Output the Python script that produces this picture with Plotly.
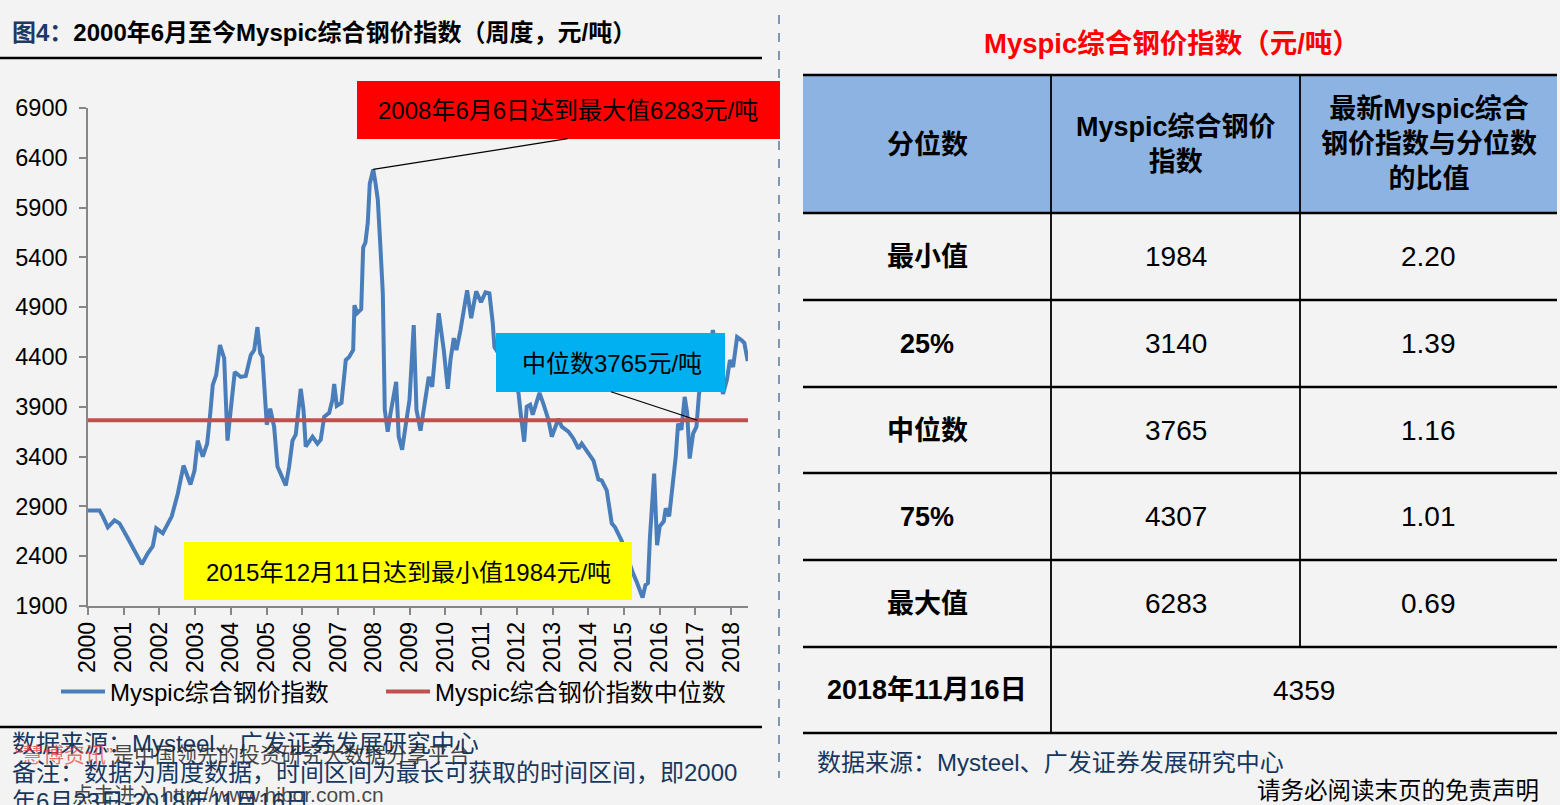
import plotly.graph_objects as go
from datetime import date, timedelta

# ---------------- data ----------------
dates = [
    "2000-06-23", "2000-10-18", "2000-11-21", "2001-01-11", "2001-03-20", "2001-05-10", "2001-07-17", "2001-10-10", "2001-12-23",
    "2002-02-22", "2002-04-14", "2002-05-19", "2002-07-25", "2002-10-24", "2002-12-25",
    "2003-02-21", "2003-05-03", "2003-06-13", "2003-07-16", "2003-09-05", "2003-10-20", "2003-11-23", "2003-12-16",
    "2004-01-20", "2004-02-17", "2004-02-27", "2004-04-10", "2004-05-14", "2004-06-16", "2004-07-27", "2004-09-26", "2004-11-16",
    "2005-01-06", "2005-02-10", "2005-03-15", "2005-04-12", "2005-05-05", "2005-06-18", "2005-07-23", "2005-09-01", "2005-10-05", "2005-12-29",
    "2006-02-01", "2006-03-07", "2006-04-09", "2006-05-30", "2006-06-27", "2006-07-20", "2006-09-27", "2006-11-16", "2006-12-20",
    "2007-01-24", "2007-03-16", "2007-04-18", "2007-05-06", "2007-06-01", "2007-07-19", "2007-09-01", "2007-10-05", "2007-11-15", "2007-11-28", "2007-12-26",
    "2008-02-05", "2008-02-25", "2008-03-19", "2008-04-12", "2008-05-02", "2008-06-06", "2008-06-29", "2008-07-23", "2008-08-19", "2008-09-12", "2008-10-02", "2008-11-01", "2008-11-29", "2008-12-22",
    "2009-01-26", "2009-02-21", "2009-03-28", "2009-05-01", "2009-06-11", "2009-07-24", "2009-08-21", "2009-10-01", "2009-11-03", "2009-12-24",
    "2010-01-28", "2010-04-05", "2010-05-26", "2010-07-06", "2010-08-02", "2010-09-05", "2010-10-02", "2010-11-12",
    "2011-01-19", "2011-03-01", "2011-04-21", "2011-06-09", "2011-07-25", "2011-09-03", "2011-10-07", "2011-10-24", "2011-12-14",
    "2012-02-03", "2012-03-25", "2012-05-15", "2012-06-25", "2012-07-18", "2012-08-22", "2012-09-17", "2012-10-22", "2012-11-17", "2012-12-22",
    "2013-01-25", "2013-03-06", "2013-04-26", "2013-05-30", "2013-07-03", "2013-08-06", "2013-09-09", "2013-11-16",
    "2014-01-06", "2014-02-26", "2014-03-31", "2014-06-08", "2014-07-29", "2014-09-17", "2014-10-21", "2014-12-11",
    "2015-01-08", "2015-01-31", "2015-03-06", "2015-04-02", "2015-04-26", "2015-05-10", "2015-06-30", "2015-07-30", "2015-09-04", "2015-10-09", "2015-12-11",
    "2016-01-09", "2016-02-04", "2016-02-24", "2016-04-07", "2016-05-07", "2016-06-03", "2016-07-14", "2016-08-03", "2016-09-07", "2016-10-10", "2016-11-13", "2016-12-07",
    "2017-01-10", "2017-02-12", "2017-03-09", "2017-04-04", "2017-05-09", "2017-06-12", "2017-07-09", "2017-08-02", "2017-09-22", "2017-11-27",
    "2018-01-12", "2018-03-09", "2018-04-18", "2018-05-19", "2018-06-20", "2018-07-31", "2018-09-13", "2018-10-13", "2018-11-16",
]
values = [
    2860, 2860, 2800, 2690, 2760, 2730, 2610, 2460, 2320,
    2430, 2500, 2680, 2630, 2800, 3030,
    3310, 3120, 3260, 3560, 3400, 3530, 3860, 4120,
    4220, 4480, 4520, 4390, 3560, 3870, 4250, 4200, 4210,
    4420, 4470, 4700, 4440, 4400, 3720, 3880, 3700, 3300, 3110,
    3300, 3560, 3620, 4080, 3870, 3500, 3600, 3530, 3570,
    3800, 3840, 3970, 4130, 3910, 3940, 4370, 4400, 4470, 4920, 4840,
    4880, 5500, 5550, 5750, 6140, 6283, 6150, 5980, 5500, 5040, 3870, 3650, 3830, 3970,
    4150, 3600, 3470, 3700, 3970, 4720, 3870, 3660, 3900, 4200,
    4100, 4840, 4470, 4080, 4370, 4590, 4470, 4670,
    5070, 4790, 5060, 4950, 5050, 5040, 4740, 4500, 4420,
    4280, 4330, 4150, 4040, 3830, 3550, 3900, 3920, 3820, 3940,
    4040, 3930, 3770, 3600, 3700, 3780, 3700, 3650,
    3580, 3480, 3530, 3430, 3360, 3170, 3160, 3060,
    2900, 2730, 2690, 2640, 2580, 2560, 2420, 2330, 2230, 2150, 1984,
    2110, 2130, 2590, 3230, 2510, 2700, 2750, 2880, 2800, 3100, 3400, 3730,
    3670, 4000, 3840, 3380, 3630, 3700, 4040, 4120, 4380, 4670,
    4300, 4030, 4170, 4370, 4300, 4600, 4570, 4540, 4359,
]
median_value = 3765
x_tick_labels = [str(y) for y in range(2000, 2019)]
y_ticks = [1900, 2400, 2900, 3400, 3900, 4400, 4900, 5400, 5900, 6400, 6900]

series_name = "Myspic综合钢价指数"
median_name = "Myspic综合钢价指数中位数"

max_date, max_value = "2008-06-06", 6283
min_date, min_value = "2015-12-11", 1984
median_point_date = "2017-06-22"

table_rows = ["最小值", "25%", "中位数", "75%", "最大值"]
table_index = ["1984", "3140", "3765", "4307", "6283"]
table_ratio = ["2.20", "1.39", "1.16", "1.01", "0.69"]
latest_label = "2018年11月16日"
latest_value = "4359"
table_headers = ["分位数", "Myspic综合钢价<br>指数", "最新Myspic综合<br>钢价指数与分位数<br>的比值"]

# ---------------- helpers ----------------
W, H = 1560, 805
FONT = "Liberation Sans, Noto Sans CJK SC, sans-serif"
BG = "#F3F3F3"


def fx(px):
    return px / W


def fy(py):
    return 1 - py / H


start = date.fromisoformat(dates[0])
tick_vals = [(start + timedelta(days=364 * k)).isoformat() for k in range(len(x_tick_labels))]
x_end = (date.fromisoformat(dates[-1]) + timedelta(days=3)).isoformat()

fig = go.Figure()
fig.add_trace(go.Scatter(
    x=dates, y=values, mode="lines", name=series_name, legend="legend",
    line=dict(color="#4A7EBB", width=4),
))
fig.add_trace(go.Scatter(
    x=[dates[0], x_end], y=[median_value, median_value], mode="lines", name=median_name, legend="legend2",
    line=dict(color="#C0504D", width=4),
))

shapes = []
annotations = []


def hline(x0, x1, y, width=2, color="black", dash=None):
    shapes.append(dict(type="line", xref="paper", yref="paper", x0=fx(x0), x1=fx(x1), y0=fy(y), y1=fy(y),
                       line=dict(color=color, width=width, dash=dash)))


def vline(x, y0, y1, width=2, color="black", dash=None):
    shapes.append(dict(type="line", xref="paper", yref="paper", x0=fx(x), x1=fx(x), y0=fy(y0), y1=fy(y1),
                       line=dict(color=color, width=width, dash=dash)))


def rect(x0, y0, x1, y1, fill):
    shapes.append(dict(type="rect", xref="paper", yref="paper", x0=fx(x0), x1=fx(x1), y0=fy(y1), y1=fy(y0),
                       fillcolor=fill, line=dict(width=0), layer="above"))


def text(x, y, s, size=20, color="black", xanchor="center", yanchor="middle", align="center"):
    annotations.append(dict(xref="paper", yref="paper", x=fx(x), y=fy(y), text=s, showarrow=False,
                            xanchor=xanchor, yanchor=yanchor, align=align,
                            font=dict(family=FONT, size=size, color=color)))


# left panel frame
hline(0, 762, 58, width=2.5)
hline(0, 762, 727, width=2.5)
vline(779, 15, 778, width=1.5, color="#5B7A9E", dash="dash")

text(10, 32, '<b><span style="color:#1F3864">图4：</span>2000年6月至今Myspic综合钢价指数（周度，元/吨）</b>',
     size=24, xanchor="left")

# callout boxes
rect(357, 81, 780, 139, "#FF0000")
text(568, 110, f"{max_date[:4]}年6月6日达到最大值{max_value}元/吨", size=24)
rect(496, 333, 725, 392, "#00B0F0")
text(612, 363, f"中位数{median_value}元/吨", size=24)
rect(184, 542, 632, 600, "#FFFF00")
text(408, 572, f"{min_date[:4]}年12月11日达到最小值{min_value}元/吨", size=24)

# connector lines
annotations.append(dict(x=max_date, y=max_value, xref="x", yref="y", text="", showarrow=True,
                        arrowhead=0, arrowwidth=1.3, arrowcolor="black", ax=196, ay=-31, standoff=0))
annotations.append(dict(x=median_point_date, y=median_value, xref="x", yref="y", text="", showarrow=True,
                        arrowhead=0, arrowwidth=1.3, arrowcolor="black", ax=-88, ay=-29, standoff=0))

# bottom-left notes
text(10, 743, "数据来源：Mysteel、广发证券发展研究中心", size=24, color="#17375E", xanchor="left")
text(13, 754, '<span style="color:rgba(230,60,60,0.85)">“慧博资讯”</span>是中国领先的投资研究大数据分享平台',
     size=21, color="rgba(40,40,40,0.85)", xanchor="left")
text(10, 772, "备注：数据为周度数据，时间区间为最长可获取的时间区间，即2000", size=24, color="#17375E", xanchor="left")
text(70, 794, "点击进入 http://www.hibor.com.cn", size=21, color="rgba(40,40,40,0.85)", xanchor="left")
text(10, 801, "年6月23日-2018年11月16日", size=24, color="#17375E", xanchor="left")

# ---------------- right table ----------------
TX0, TX1 = 803, 1557
C1, C2 = 1051, 1300
row_edges = [75, 213, 300, 387, 473, 560, 647, 733]
col_centers = [(TX0 + C1) / 2, (C1 + C2) / 2, (C2 + TX1) / 2]

text(1172, 44, "<b>Myspic综合钢价指数（元/吨）</b>", size=27.5, color="#FF0000")
rect(TX0, row_edges[0], TX1, row_edges[1], "#8DB3E2")
for y in row_edges:
    hline(TX0, TX1, y, width=2.5)
vline(C1, row_edges[0], row_edges[-1], width=1.8)
vline(C2, row_edges[0], row_edges[-2], width=1.8)

hy = (row_edges[0] + row_edges[1]) / 2
for cx, h in zip(col_centers, table_headers):
    text(cx, hy, f"<b>{h}</b>", size=27)

for i, (lab, v, r) in enumerate(zip(table_rows, table_index, table_ratio)):
    cy = (row_edges[i + 1] + row_edges[i + 2]) / 2
    text(col_centers[0], cy, f"<b>{lab}</b>", size=27)
    text(col_centers[1], cy, v, size=28)
    text(col_centers[2], cy, r, size=28)

cy = (row_edges[-2] + row_edges[-1]) / 2
text(col_centers[0], cy, f"<b>{latest_label}</b>", size=27)
text((C1 + TX1) / 2, cy, latest_value, size=28)

text(815, 762, "数据来源：Mysteel、广发证券发展研究中心", size=24, color="#17375E", xanchor="left")
text(1541, 791, "请务必阅读末页的免责声明", size=23.5, color="black", xanchor="right")

legend_common = dict(orientation="h", y=fy(692), xanchor="left", yanchor="middle",
                     bgcolor="rgba(0,0,0,0)", font=dict(family=FONT, size=24, color="black"),
                     itemwidth=44)

fig.update_layout(
    width=W, height=H,
    margin=dict(l=0, r=0, t=0, b=0, autoexpand=False),
    paper_bgcolor=BG, plot_bgcolor=BG,
    font=dict(family=FONT, size=20, color="black"),
    shapes=shapes, annotations=annotations,
    showlegend=True,
    legend=dict(x=fx(56), **legend_common),
    legend2=dict(x=fx(381), **legend_common),
    xaxis=dict(domain=[fx(88), fx(748)], type="date", range=[dates[0], x_end],
               tickmode="array", tickvals=tick_vals, ticktext=x_tick_labels, tickangle=-90,
               ticks="outside", ticklen=7, tickcolor="#868686", tickwidth=1.5,
               showline=True, linecolor="#868686", linewidth=1.5, showgrid=False, zeroline=False,
               tickfont=dict(family=FONT, size=23, color="black"), ticklabelstandoff=-2, fixedrange=True),
    yaxis=dict(domain=[fy(606), fy(108)], range=[1900, 6900],
               tickmode="array", tickvals=y_ticks,
               ticks="outside", ticklen=7, tickcolor="#868686", tickwidth=1.5,
               showline=True, linecolor="#868686", linewidth=1.5, showgrid=False, zeroline=False,
               tickfont=dict(family=FONT, size=23.5, color="black"), ticklabelstandoff=7, fixedrange=True),
)

fig.write_html("out.html")
